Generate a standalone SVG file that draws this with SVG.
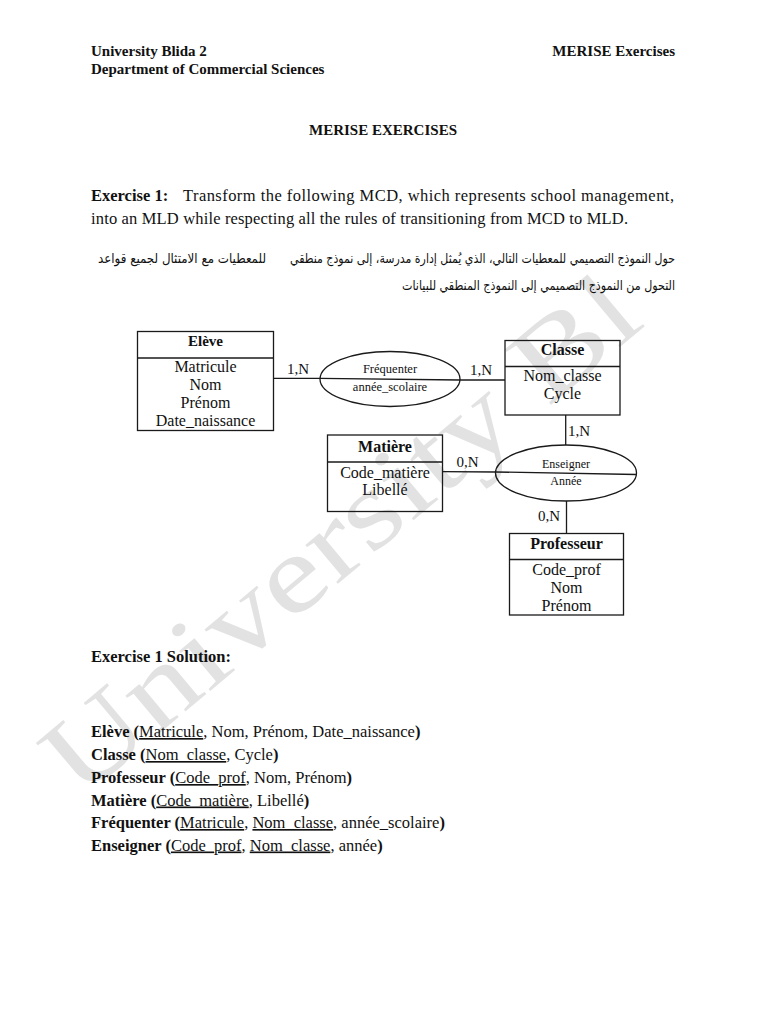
<svg xmlns="http://www.w3.org/2000/svg" width="768" height="1024" viewBox="0 0 768 1024">
<style>
text{font-family:"Liberation Serif","Times New Roman",serif;fill:#111}
.hd{font-size:15px;font-weight:bold}
.body{font-size:16.5px}
.ar{font-family:"DejaVu Sans","Noto Sans",sans-serif;font-size:13.5px}
.box{fill:none;stroke:#1a1a1a;stroke-width:1.3}
.ttl{font-size:16px;font-weight:bold;text-anchor:middle}
.att{font-size:16px;text-anchor:middle}
.rel{font-size:12.5px;text-anchor:middle}
.card{font-size:15px}
.conn line{stroke:#1a1a1a;stroke-width:1.3}
.sol{font-size:16.5px}
.b{font-weight:bold}
.u{text-decoration:underline}
.wm{font-size:110px;fill:#e2e2e2}
</style>
<rect width="768" height="1024" fill="#ffffff"/>
<text class="wm" transform="translate(80,800) rotate(-40)" textLength="740" lengthAdjust="spacingAndGlyphs">University Bl</text>

<text class="hd" x="91" y="56">University Blida 2</text>
<text class="hd" x="675" y="56" text-anchor="end">MERISE Exercises</text>
<text class="hd" x="91" y="74">Department of Commercial Sciences</text>
<text class="hd" x="383" y="135" text-anchor="middle">MERISE EXERCISES</text>

<text class="body b" x="91" y="201">Exercise 1:</text>
<text class="body" x="183" y="201" textLength="491" lengthAdjust="spacing">Transform the following MCD, which represents school management,</text>
<text class="body" x="91" y="224" textLength="537" lengthAdjust="spacing">into an MLD while respecting all the rules of transitioning from MCD to MLD.</text>

<text class="ar" x="675" y="263" text-anchor="end" textLength="385" lengthAdjust="spacingAndGlyphs">حول النموذج التصميمي للمعطيات التالي، الذي يُمثل إدارة مدرسة، إلى نموذج منطقي</text>
<text class="ar" x="266" y="263" text-anchor="end" textLength="168" lengthAdjust="spacingAndGlyphs">للمعطيات مع الامتثال لجميع قواعد</text>
<text class="ar" x="675" y="290" text-anchor="end" textLength="273" lengthAdjust="spacingAndGlyphs">التحول من النموذج التصميمي إلى النموذج المنطقي للبيانات</text>

<g class="conn" id="connectors">
<line x1="273.5" y1="378.3" x2="320" y2="378.3"/>
<line x1="460" y1="380" x2="505" y2="380"/>
<line x1="565.7" y1="415" x2="565.7" y2="445"/>
<line x1="442.5" y1="471.7" x2="495.5" y2="472"/>
<line x1="566.5" y1="501" x2="566.5" y2="533.5"/>
<text class="card" x="287" y="374">1,N</text>
<text class="card" x="470" y="375">1,N</text>
<text class="card" x="568" y="436">1,N</text>
<text class="card" x="456.5" y="467">0,N</text>
<text class="card" x="538" y="520.5">0,N</text>
</g>

<g id="eleve">
<rect class="box" x="137.5" y="331.5" width="136" height="99"/>
<line class="box" x1="137.5" y1="358" x2="273.5" y2="358"/>
<text class="ttl" x="205.5" y="346" style="font-size:15px">Elève</text>
<text class="att" x="205.5" y="372">Matricule</text>
<text class="att" x="205.5" y="390">Nom</text>
<text class="att" x="205.5" y="408">Prénom</text>
<text class="att" x="205.5" y="426">Date_naissance</text>
</g>

<g id="frequenter">
<ellipse class="box" cx="390" cy="379" rx="70" ry="27.5"/>
<line class="box" x1="320" y1="378.3" x2="460" y2="380"/>
<text class="rel" x="390" y="373">Fréquenter</text>
<text class="rel" x="390" y="390.5">année_scolaire</text>
</g>

<g id="classe">
<rect class="box" x="505" y="340.5" width="115" height="74.5"/>
<line class="box" x1="505" y1="366.5" x2="620" y2="366.5"/>
<text class="ttl" x="562.5" y="355">Classe</text>
<text class="att" x="562.5" y="381">Nom_classe</text>
<text class="att" x="562.5" y="398.5">Cycle</text>
</g>

<g id="matiere">
<rect class="box" x="327.5" y="435" width="115" height="76.5"/>
<line class="box" x1="327.5" y1="462" x2="442.5" y2="462"/>
<text class="ttl" x="385" y="451.5">Matière</text>
<text class="att" x="385" y="477.5">Code_matière</text>
<text class="att" x="385" y="495">Libellé</text>
</g>

<g id="enseigner">
<ellipse class="box" cx="566" cy="473" rx="70.5" ry="28"/>
<line class="box" x1="495.5" y1="472" x2="636.5" y2="474.5"/>
<text class="rel" x="566" y="467.5" style="font-size:12px">Enseigner</text>
<text class="rel" x="566" y="484.5" style="font-size:12px">Année</text>
</g>

<g id="professeur">
<rect class="box" x="509.5" y="533.5" width="114" height="81.5"/>
<line class="box" x1="509.5" y1="559.5" x2="623.5" y2="559.5"/>
<text class="ttl" x="566.5" y="548.5">Professeur</text>
<text class="att" x="566.5" y="575">Code_prof</text>
<text class="att" x="566.5" y="593">Nom</text>
<text class="att" x="566.5" y="610.5">Prénom</text>
</g>

<text class="sol b" x="91" y="662">Exercise 1 Solution:</text>
<text class="sol" x="91" y="737"><tspan class="b">Elève (</tspan><tspan class="u">Matricule</tspan>, Nom, Prénom, Date_naissance<tspan class="b">)</tspan></text>
<text class="sol" x="91" y="760"><tspan class="b">Classe (</tspan><tspan class="u">Nom_classe</tspan>, Cycle<tspan class="b">)</tspan></text>
<text class="sol" x="91" y="783"><tspan class="b">Professeur (</tspan><tspan class="u">Code_prof</tspan>, Nom, Prénom<tspan class="b">)</tspan></text>
<text class="sol" x="91" y="805.5"><tspan class="b">Matière (</tspan><tspan class="u">Code_matière</tspan>, Libellé<tspan class="b">)</tspan></text>
<text class="sol" x="91" y="828"><tspan class="b">Fréquenter (</tspan><tspan class="u">Matricule</tspan>, <tspan class="u">Nom_classe</tspan>, année_scolaire<tspan class="b">)</tspan></text>
<text class="sol" x="91" y="850.5"><tspan class="b">Enseigner (</tspan><tspan class="u">Code_prof</tspan>, <tspan class="u">Nom_classe</tspan>, année<tspan class="b">)</tspan></text>
</svg>
